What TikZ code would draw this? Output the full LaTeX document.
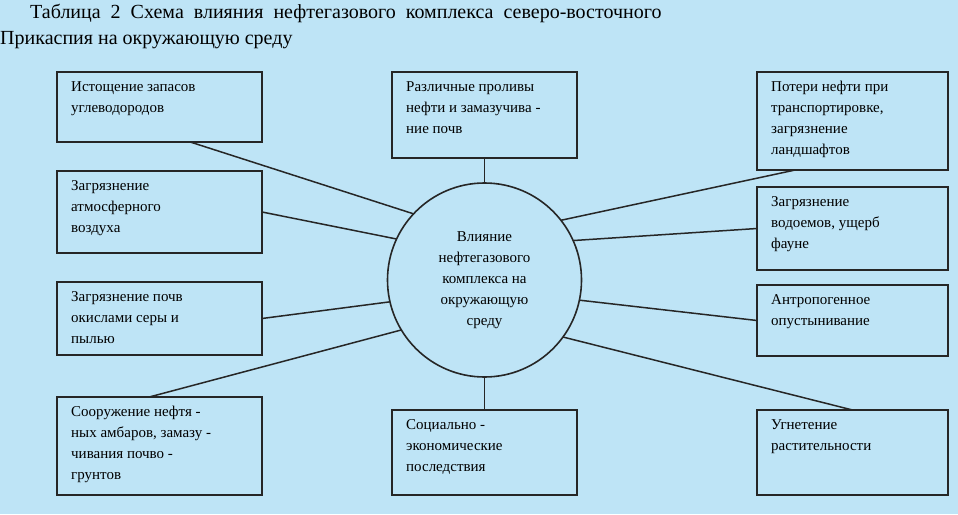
\documentclass[tikz,border=0pt]{standalone}
\usepackage{fontspec}
\setmainfont{Liberation Serif}
\usetikzlibrary{calc}
\definecolor{bg}{RGB}{190,228,246}
\begin{document}
\begin{tikzpicture}[x=1pt,y=-1pt,
  box/.style={draw=black!85,line width=1.6pt,inner sep=0pt,outer sep=0pt},
  txt/.style={anchor=north west,align=left,font=\fontsize{15}{21}\selectfont,inner sep=0pt},
  ln/.style={draw=black!85,line width=1.5pt}]
\fill[bg] (0,0) rectangle (958,514);
\useasboundingbox (0,0) rectangle (958,514);
\node[anchor=west,inner sep=0pt,font=\fontsize{20}{22}\selectfont] (t1) at (30,13) {Таблица\ \ 2\ \ Схема\ \ влияния\ \ нефтегазового\ \ комплекса\ \ северо-восточного};
\node[anchor=west,inner sep=0pt,font=\fontsize{20}{22}\selectfont] (t2) at (0,40) {Прикаспия на окружающую среду};
\newcommand{\bx}[6]{%
  \node[box,minimum width={(#4-#2)*1pt},minimum height={(#5-#3)*1pt},anchor=north west] (#1) at (#2,#3) {};
  \node[txt] (#1t) at ($(#2,#3)+(14,9)$) {#6};}
\bx{b1}{57}{72}{262}{142}{Истощение запасов\\углеводородов}
\bx{b2}{57}{171}{262}{253}{Загрязнение\\атмосферного\\воздуха}
\bx{b3}{57}{282}{262}{355}{Загрязнение почв\\окислами серы и\\пылью}
\bx{b4}{57}{397}{262}{495}{Сооружение нефтя -\\ных амбаров, замазу -\\чивания почво -\\грунтов}
\bx{tc}{392}{72}{577}{158}{Различные проливы\\нефти и замазучива -\\ние почв}
\bx{bc}{392}{410}{577}{495}{Социально -\\экономические\\последствия}
\bx{r1}{757}{72}{948}{170}{Потери нефти при\\транспортировке,\\загрязнение\\ландшафтов}
\bx{r2}{757}{187}{948}{270}{Загрязнение\\водоемов, ущерб\\фауне}
\bx{r3}{757}{285}{948}{356}{Антропогенное\\опустынивание}
\bx{r4}{757}{410}{948}{495}{Угнетение\\растительности}
\node[circle,draw=black!85,line width=1.6pt,minimum size=194pt,inner sep=0pt,outer sep=0pt] (c) at (484.5,280) {};
\node[align=center,font=\fontsize{15}{21}\selectfont] (ct) at (484.5,280) {Влияние\\нефтегазового\\комплекса на\\окружающую\\среду};
\draw[ln] ($(b1.south west)!0.65!(b1.south east)$) -- (c.137);
\draw[ln] (b2.east) -- (c.155);
\draw[ln] (b3.east) -- (c.193);
\draw[ln] ($(b4.north west)!0.45!(b4.north east)$) -- (c.211);
\draw[ln] (tc.south) -- (c.north);
\draw[ln] (bc.north) -- (c.south);
\draw[ln] ($(r1.south west)!0.2!(r1.south east)$) -- (c.38);
\draw[ln] (r2.west) -- (c.24);
\draw[ln] (r3.west) -- (c.-12);
\draw[ln] ($(r4.north west)!0.5!(r4.north east)$) -- (c.-36);
\end{tikzpicture}
\end{document}
